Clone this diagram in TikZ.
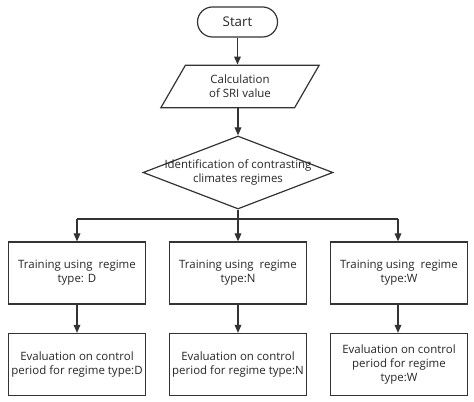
\documentclass[tikz,border=0pt]{standalone}
\usepackage{fontspec}
\setmainfont{Open Sans}
\usetikzlibrary{shapes.geometric,arrows.meta}
\begin{document}
\begin{tikzpicture}[x=0.75pt,y=-0.75pt,
  every node/.style={font=\fontsize{8.6pt}{10.3pt}\selectfont, align=center, text=black!85},
  ln/.style={draw=black!80, line width=0.9pt},
  arr/.style={ln, -{Triangle[length=6pt,width=5pt]}},
  boxs/.style={ln, rectangle, minimum width=102.75pt, minimum height=46.5pt, inner sep=1pt}]
\useasboundingbox (0,0) rectangle (474,402);
\node[ln, rectangle, rounded corners=11.25pt, minimum width=60pt, minimum height=22.5pt] (start) at (237.5,22) {\fontsize{10pt}{12pt}\selectfont Start};
\node[ln, trapezium, trapezium left angle=60, trapezium right angle=120, minimum width=96pt, minimum height=32pt, inner sep=1pt] (calc) at (240,86.5) {Calculation\\of SRI value};
\node[ln, diamond, minimum width=142.5pt, minimum height=54.75pt, aspect=2.6, inner sep=-5pt] (ident) at (238,172.5) {Identification of contrasting\\climates regimes};
\coordinate (hl) at (77,219);
\coordinate (hm) at (238,219);
\coordinate (hr) at (398,219);
\node[boxs] (t1) at (77,273) {Training using\ \ regime\\type: D};
\node[boxs] (t2) at (238,273) {Training using\ \ regime\\type:N};
\node[boxs] (t3) at (399,273) {Training using\ \ regime\\type:W};
\node[boxs] (e1) at (77,364.5) {Evaluation on control\\period for regime type:D};
\node[boxs] (e2) at (238,364.5) {Evaluation on control\\period for regime type:N};
\node[boxs] (e3) at (399,364.5) {Evaluation on control\\period for regime\\type:W};
\draw[arr] (start) -- (calc.north -| start);
\draw[arr] (calc.south -| ident.north) -- (ident.north);
\draw[ln] (ident.south) -- (hm);
\draw[ln] (hl) -- (hr);
\draw[arr] (hl) -- (t1.north -| hl);
\draw[arr] (hm) -- (t2.north -| hm);
\draw[arr] (hr) -- (t3.north -| hr);
\draw[arr] (t1.south -| hl) -- (e1.north -| hl);
\draw[arr] (t2.south -| hm) -- (e2.north -| hm);
\draw[arr] (t3.south -| hr) -- (e3.north -| hr);
\end{tikzpicture}
\end{document}
